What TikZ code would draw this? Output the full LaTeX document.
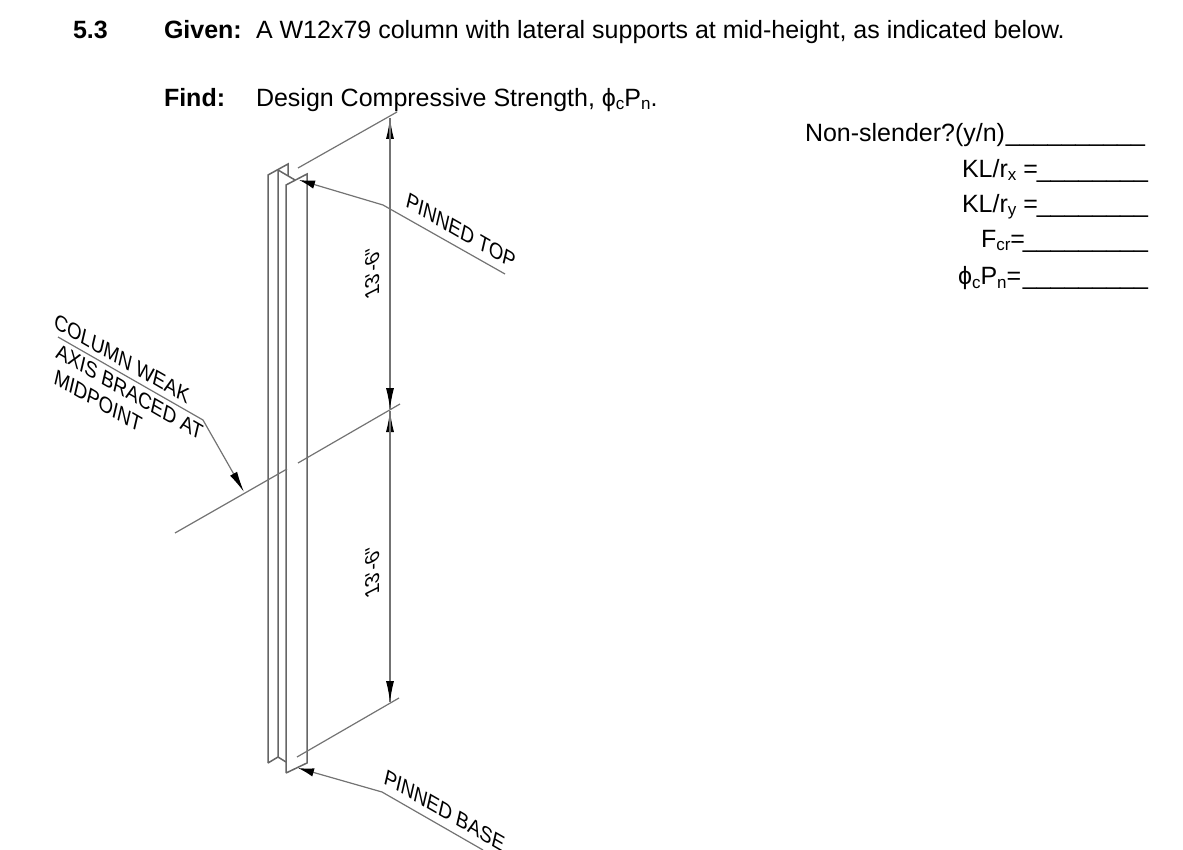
\documentclass[tikz,border=0pt]{standalone}
\usepackage{fontspec}
\setmainfont{Liberation Sans}
\newfontfamily\dwgfont{Liberation Sans}
\usetikzlibrary{arrows.meta}
\tikzset{
 txt/.style={inner sep=0pt,outer sep=0pt,anchor=base west,font=\fontsize{25}{30}\selectfont,text=black},
 blank/.style={inner sep=0pt,outer sep=0pt,anchor=base east,font=\fontsize{25}{30}\selectfont,text=black},
 dwg/.style={inner sep=0pt,outer sep=0pt,anchor=base west,font=\dwgfont\fontsize{20.5}{22}\selectfont,text=black,rotate=-30,xslant=-0.3},
 dimtxt/.style={inner sep=0pt,outer sep=0pt,anchor=center,font=\dwgfont\fontsize{20}{22}\selectfont,text=black,rotate=90,xslant=-0.5},
 steel/.style={draw=black!60,line width=1.5pt},
 thin line/.style={draw=black!55,line width=1.2pt},
 tip/.style={-{Latex[length=21pt,width=8pt,black]}},
 tipshort/.style={-{Latex[length=16pt,width=8.5pt,black]}},
}
\newcommand{\ssub}[1]{\raisebox{-3pt}{\fontsize{17}{18}\selectfont #1}}
\begin{document}
\begin{tikzpicture}[x=1pt,y=-1pt]
\useasboundingbox (0,0) rectangle (1183,850);
% heading
\node[txt] (num) at (73,39) {\bfseries 5.3};
\node[txt] (given) at (164,39) {\bfseries Given:};
\node[txt] (giventxt) at (256,39) {A W12x79 column with lateral supports at mid-height, as indicated below.};
\node[txt] (find) at (164,107) {\bfseries Find:};
\node[txt] (findtxt) at (256,107) {Design Compressive Strength, ϕ\ssub{c}P\ssub{n}.};
% right column
\node[txt] (q1) at (805,142) {Non-slender?(y/n)};
\node[blank] (b1) at (1145,142) {\_\_\_\_\_\_\_\_\_\_};
\node[txt] (q2) at (962,178) {KL/r\ssub{x} =};
\node[blank] (b2) at (1148,178) {\_\_\_\_\_\_\_\_};
\node[txt] (q3) at (962,213) {KL/r\ssub{y} =};
\node[blank] (b3) at (1148,213) {\_\_\_\_\_\_\_\_};
\node[txt] (q4) at (981,248) {F\ssub{cr}=};
\node[blank] (b4) at (1148,248) {\_\_\_\_\_\_\_\_\_};
\node[txt] (q5) at (958,285) {ϕ\ssub{c}P\ssub{n}=};
\node[blank] (b5) at (1148,285) {\_\_\_\_\_\_\_\_\_};
% column
\draw[steel] (268,763) -- (268,175) -- (288,164) -- (288,176);
\draw[steel] (268,763) -- (278,757) -- (278,170);
\draw[steel] (278,757) -- (286,762);
\draw[steel] (278,170) -- (295,180);
\draw[steel] (286,773) -- (286,185) -- (307,174) -- (307,763) -- (286,773);
% extension lines
\coordinate (t1) at (298,168); \coordinate (t2) at (397,112);
\coordinate (m1) at (175,533); \coordinate (m2) at (287,469);
\coordinate (m3) at (298,463); \coordinate (m4) at (400,404);
\coordinate (b1e) at (297,757); \coordinate (b2e) at (399,698);
\draw[thin line] (t1) -- (t2);
\draw[thin line] (m1) -- (m2);
\draw[thin line] (m3) -- (m4);
\draw[thin line] (b1e) -- (b2e);
% dimension lines
\coordinate (d0) at (390,118); \coordinate (d1) at (390,409);
\coordinate (d2) at (390,411); \coordinate (d3) at (390,702);
\draw[thin line,tip] (d1) -- (d0);
\draw[thin line,tip] (d0) -- (d1);
\draw[thin line,tip] (d3) -- (d2);
\draw[thin line,tip] (d2) -- (d3);
\node[dimtxt] (dimA) at (373,272.5) {13'-6"};
\node[dimtxt] (dimB) at (373,571.5) {13'-6"};
% leaders
\coordinate (pt0) at (505,274); \coordinate (pt1) at (383,205); \coordinate (pt2) at (299,180);
\draw[thin line,tipshort] (pt0) -- (pt1) -- (pt2);
\node[dwg] (pintop) at (405,207) {PINNED TOP};
\coordinate (pb0) at (483,850); \coordinate (pb1) at (382,792); \coordinate (pb2) at (298,768);
\draw[thin line,tipshort] (pb0) -- (pb1) -- (pb2);
\node[dwg] (pinbase) at (383,783) {PINNED BASE};
\coordinate (cw0) at (58,337); \coordinate (cw1) at (203,420); \coordinate (cw2) at (244,492);
\draw[thin line,tip] (cw0) -- (cw1) -- (cw2);
\node[dwg] (cwa) at (53,327) {COLUMN WEAK};
\node[dwg] (cwb) at (55,357) {AXIS BRACED AT};
\node[dwg] (cwc) at (53,383) {MIDPOINT};
\end{tikzpicture}
\end{document}
